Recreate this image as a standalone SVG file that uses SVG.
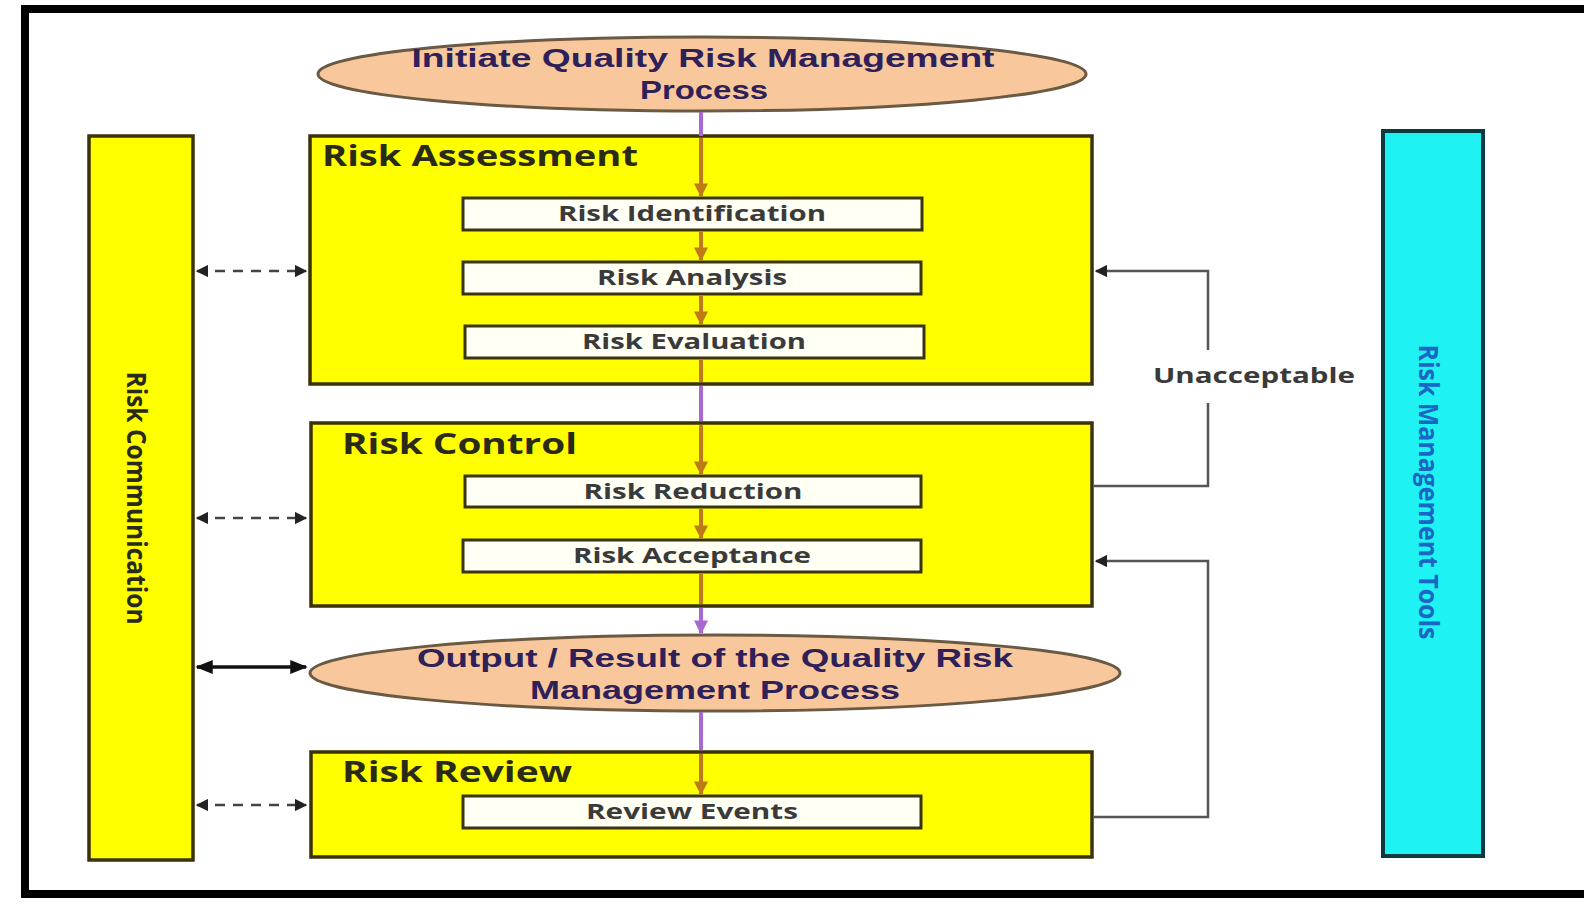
<svg xmlns="http://www.w3.org/2000/svg" width="1584" height="912" viewBox="0 0 1584 912">
<style>
.box{fill:#ffff00;stroke:#3a3208;stroke-width:3.5}
.inner{fill:#fffff4;stroke:#3a3410;stroke-width:3}
.ell{fill:#f8c89c;stroke:#6a5a44;stroke-width:3}
.title{font-family:"Open Sans","Noto Sans",sans-serif;font-weight:bold;font-size:29px;fill:#2a2a18}
.lbl{font-family:"Open Sans","Noto Sans",sans-serif;font-weight:bold;font-size:21px;fill:#3a3a3a;text-anchor:middle}
.etxt{font-family:"Liberation Sans",Arial,sans-serif;font-weight:bold;font-size:26px;fill:#2e2058;text-anchor:middle}
.pur{stroke:#a868d0;stroke-width:4;fill:none}
.org{stroke:#c07818;stroke-width:4;fill:none}
.dash{stroke:#444;stroke-width:2.5;stroke-dasharray:10 8;fill:none}
.fb{stroke:#555;stroke-width:2.5;fill:none}
</style>
<defs>
<marker id="ao" viewBox="0 0 10 10" refX="9" refY="5" markerWidth="3.5" markerHeight="3.5" orient="auto"><path d="M0,0 L10,5 L0,10 z" fill="#c07818"/></marker>
<marker id="ap" viewBox="0 0 10 10" refX="9" refY="5" markerWidth="3.5" markerHeight="3.5" orient="auto"><path d="M0,0 L10,5 L0,10 z" fill="#a868d0"/></marker>
<marker id="ak" viewBox="0 0 10 10" refX="9" refY="5" markerWidth="5" markerHeight="5" orient="auto-start-reverse"><path d="M0,0 L10,5 L0,10 z" fill="#222"/></marker>
<marker id="ab" viewBox="0 0 10 10" refX="9" refY="5" markerWidth="5" markerHeight="5" orient="auto-start-reverse"><path d="M0,1 L10,5 L0,9 z" fill="#111"/></marker>
</defs>
<rect x="0" y="0" width="1584" height="912" fill="#ffffff"/>
<rect id="frame" x="25" y="9" width="1570" height="885" fill="#ffffff" stroke="#000" stroke-width="8"/>

<g id="initiate">
  <ellipse class="ell" cx="702" cy="74" rx="384" ry="37"/>
  <text class="etxt" x="703" y="67" textLength="583" lengthAdjust="spacingAndGlyphs">Initiate Quality Risk Management</text>
  <text class="etxt" x="704" y="99" textLength="128" lengthAdjust="spacingAndGlyphs">Process</text>
</g>

<g id="risk-communication">
  <rect class="box" x="89" y="136" width="104" height="724"/>
  <text transform="translate(127,498) rotate(90)" x="0" y="0" text-anchor="middle" font-family="Open Sans, Noto Sans, sans-serif" font-weight="bold" font-size="26" fill="#2a2a18" textLength="253" lengthAdjust="spacingAndGlyphs">Risk Communication</text>
</g>

<g id="risk-management-tools">
  <rect x="1383" y="131" width="100" height="725" fill="#1ef2f2" stroke="#0c3a40" stroke-width="4"/>
  <text transform="translate(1419,492) rotate(90)" x="0" y="0" text-anchor="middle" font-family="Open Sans, Noto Sans, sans-serif" font-weight="bold" font-size="26" fill="#1a66c4" textLength="295" lengthAdjust="spacingAndGlyphs">Risk Management Tools</text>
</g>

<g id="risk-assessment">
  <rect class="box" x="310" y="136" width="782" height="248"/>
  <text class="title" x="322" y="166" textLength="316" lengthAdjust="spacingAndGlyphs">Risk Assessment</text>
</g>
<g id="risk-identification">
  <rect class="inner" x="463" y="198" width="459" height="32"/>
  <text class="lbl" x="692" y="221" textLength="268" lengthAdjust="spacingAndGlyphs">Risk Identification</text>
</g>
<g id="risk-analysis">
  <rect class="inner" x="463" y="262" width="458" height="32"/>
  <text class="lbl" x="692" y="285" textLength="190" lengthAdjust="spacingAndGlyphs">Risk Analysis</text>
</g>
<g id="risk-evaluation">
  <rect class="inner" x="465" y="326" width="459" height="32"/>
  <text class="lbl" x="694" y="349" textLength="224" lengthAdjust="spacingAndGlyphs">Risk Evaluation</text>
</g>

<g id="risk-control">
  <rect class="box" x="311" y="423" width="781" height="183"/>
  <text class="title" x="342" y="454" textLength="235" lengthAdjust="spacingAndGlyphs">Risk Control</text>
</g>
<g id="risk-reduction">
  <rect class="inner" x="465" y="476" width="456" height="31"/>
  <text class="lbl" x="693" y="499" textLength="219" lengthAdjust="spacingAndGlyphs">Risk Reduction</text>
</g>
<g id="risk-acceptance">
  <rect class="inner" x="463" y="540" width="458" height="32"/>
  <text class="lbl" x="692" y="563" textLength="238" lengthAdjust="spacingAndGlyphs">Risk Acceptance</text>
</g>

<g id="output">
  <ellipse class="ell" cx="715" cy="673" rx="405" ry="38"/>
  <text class="etxt" x="715" y="667" textLength="596" lengthAdjust="spacingAndGlyphs">Output / Result of the Quality Risk</text>
  <text class="etxt" x="715" y="699" textLength="370" lengthAdjust="spacingAndGlyphs">Management Process</text>
</g>

<g id="risk-review">
  <rect class="box" x="311" y="752" width="781" height="105"/>
  <text class="title" x="342" y="782" textLength="230" lengthAdjust="spacingAndGlyphs">Risk Review</text>
</g>
<g id="review-events">
  <rect class="inner" x="463" y="796" width="458" height="32"/>
  <text class="lbl" x="692" y="819" textLength="212" lengthAdjust="spacingAndGlyphs">Review Events</text>
</g>

<g id="connectors">
  <line class="pur" x1="701" y1="112" x2="701" y2="136"/>
  <line class="org" x1="701" y1="138" x2="701" y2="196" marker-end="url(#ao)"/>
  <line class="org" x1="701" y1="232" x2="701" y2="260" marker-end="url(#ao)"/>
  <line class="org" x1="701" y1="296" x2="701" y2="324" marker-end="url(#ao)"/>
  <line class="org" x1="701" y1="360" x2="701" y2="382"/>
  <line class="pur" x1="701" y1="386" x2="701" y2="421"/>
  <line class="org" x1="701" y1="425" x2="701" y2="474" marker-end="url(#ao)"/>
  <line class="org" x1="701" y1="509" x2="701" y2="538" marker-end="url(#ao)"/>
  <line class="org" x1="701" y1="574" x2="701" y2="604"/>
  <line class="pur" x1="701" y1="608" x2="701" y2="633" marker-end="url(#ap)"/>
  <line class="pur" x1="701" y1="712" x2="701" y2="750"/>
  <line class="org" x1="701" y1="754" x2="701" y2="794" marker-end="url(#ao)"/>

  <line class="dash" x1="197" y1="271" x2="306" y2="271" marker-start="url(#ak)" marker-end="url(#ak)"/>
  <line class="dash" x1="197" y1="518" x2="306" y2="518" marker-start="url(#ak)" marker-end="url(#ak)"/>
  <line class="dash" x1="197" y1="805" x2="306" y2="805" marker-start="url(#ak)" marker-end="url(#ak)"/>
  <line x1="197" y1="667" x2="306" y2="667" stroke="#111" stroke-width="3.5" marker-start="url(#ab)" marker-end="url(#ab)"/>

  <polyline class="fb" points="1094,486 1208,486 1208,403"/>
  <polyline class="fb" points="1208,350 1208,271 1096,271" marker-end="url(#ak)"/>
  <polyline class="fb" points="1094,817 1208,817 1208,561 1096,561" marker-end="url(#ak)"/>
  <text x="1254" y="383" class="lbl" textLength="202" lengthAdjust="spacingAndGlyphs">Unacceptable</text>
</g>
</svg>
